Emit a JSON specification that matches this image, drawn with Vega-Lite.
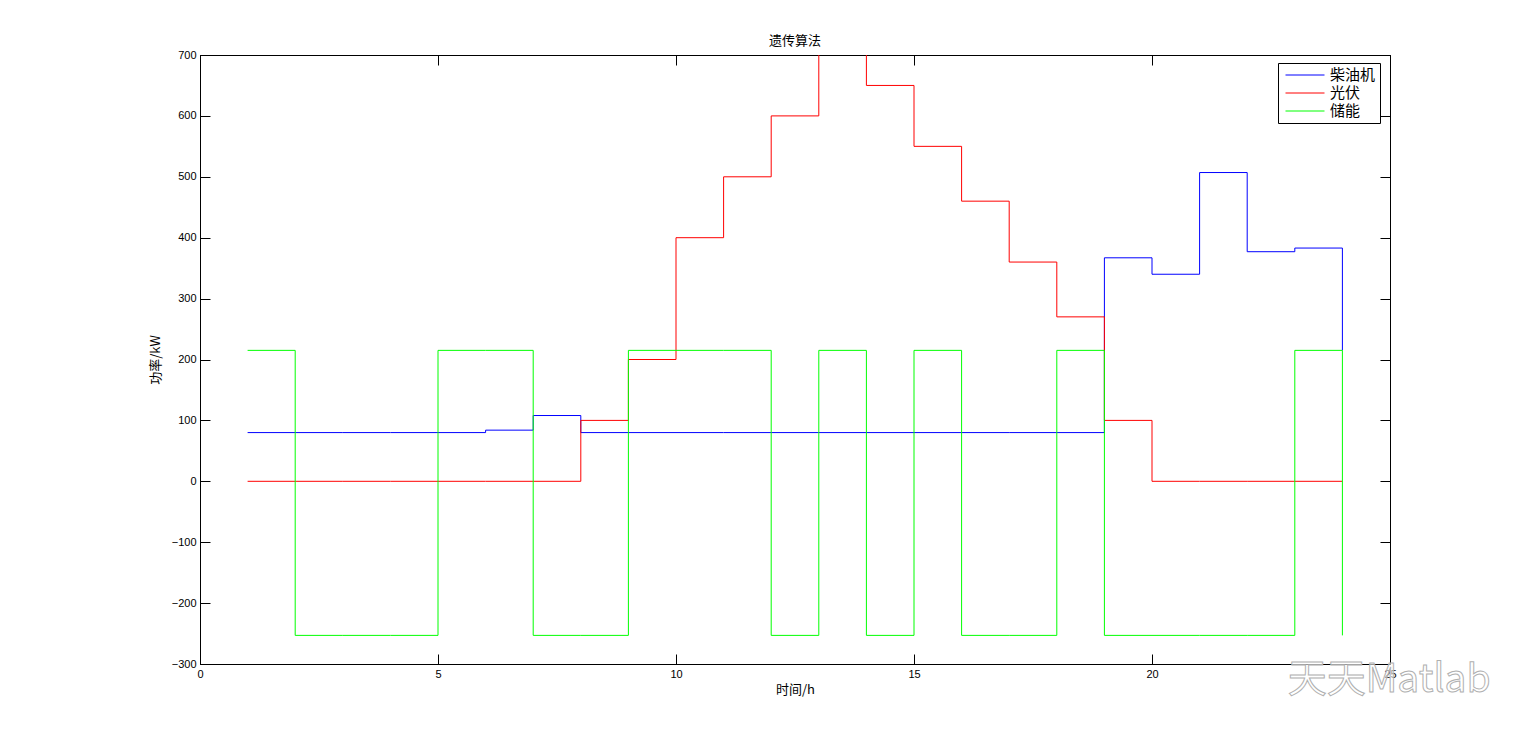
{
  "$schema": "https://vega.github.io/schema/vega-lite/v6.json",
  "width": 1190,
  "height": 609,
  "autosize": {"type": "none"},
  "padding": {"left": 200, "top": 55, "right": 147, "bottom": 82},
  "background": "white",
  "title": {"text": "遗传算法", "font": "Noto Sans CJK SC", "fontSize": 13, "fontWeight": "normal", "offset": -32, "color": "black"},
  "config": {
    "view": {"stroke": "black", "strokeWidth": 1},
    "axis": {
      "grid": false,
      "domainColor": "black",
      "tickColor": "black",
      "tickSize": -10,
      "labelPadding": 14,
      "labelFlush": false,
      "labelColor": "black",
      "labelFont": "Liberation Sans",
      "labelFontSize": 11,
      "titleFont": "Noto Sans CJK SC",
      "titleFontSize": 13,
      "titleFontWeight": "normal",
      "titleColor": "black"
    }
  },
  "datasets": {
    "series": [
      {"t": 1, "p": 80, "s": "柴油机"}, {"t": 2, "p": 80, "s": "柴油机"}, {"t": 3, "p": 80, "s": "柴油机"}, {"t": 4, "p": 80, "s": "柴油机"},
      {"t": 5, "p": 80, "s": "柴油机"}, {"t": 6, "p": 84, "s": "柴油机"}, {"t": 7, "p": 108, "s": "柴油机"}, {"t": 8, "p": 80, "s": "柴油机"},
      {"t": 9, "p": 80, "s": "柴油机"}, {"t": 10, "p": 80, "s": "柴油机"}, {"t": 11, "p": 80, "s": "柴油机"}, {"t": 12, "p": 80, "s": "柴油机"},
      {"t": 13, "p": 80, "s": "柴油机"}, {"t": 14, "p": 80, "s": "柴油机"}, {"t": 15, "p": 80, "s": "柴油机"}, {"t": 16, "p": 80, "s": "柴油机"},
      {"t": 17, "p": 80, "s": "柴油机"}, {"t": 18, "p": 80, "s": "柴油机"}, {"t": 19, "p": 367, "s": "柴油机"}, {"t": 20, "p": 340, "s": "柴油机"},
      {"t": 21, "p": 507, "s": "柴油机"}, {"t": 22, "p": 377, "s": "柴油机"}, {"t": 23, "p": 383, "s": "柴油机"}, {"t": 24, "p": 215, "s": "柴油机"},
      {"t": 1, "p": 0, "s": "光伏"}, {"t": 2, "p": 0, "s": "光伏"}, {"t": 3, "p": 0, "s": "光伏"}, {"t": 4, "p": 0, "s": "光伏"},
      {"t": 5, "p": 0, "s": "光伏"}, {"t": 6, "p": 0, "s": "光伏"}, {"t": 7, "p": 0, "s": "光伏"}, {"t": 8, "p": 100, "s": "光伏"},
      {"t": 9, "p": 200, "s": "光伏"}, {"t": 10, "p": 400, "s": "光伏"}, {"t": 11, "p": 500, "s": "光伏"}, {"t": 12, "p": 600, "s": "光伏"},
      {"t": 13, "p": 760, "s": "光伏"}, {"t": 14, "p": 650, "s": "光伏"}, {"t": 15, "p": 550, "s": "光伏"}, {"t": 16, "p": 460, "s": "光伏"},
      {"t": 17, "p": 360, "s": "光伏"}, {"t": 18, "p": 270, "s": "光伏"}, {"t": 19, "p": 100, "s": "光伏"}, {"t": 20, "p": 0, "s": "光伏"},
      {"t": 21, "p": 0, "s": "光伏"}, {"t": 22, "p": 0, "s": "光伏"}, {"t": 23, "p": 0, "s": "光伏"}, {"t": 24, "p": 0, "s": "光伏"},
      {"t": 1, "p": 215, "s": "储能"}, {"t": 2, "p": -253, "s": "储能"}, {"t": 3, "p": -253, "s": "储能"}, {"t": 4, "p": -253, "s": "储能"},
      {"t": 5, "p": 215, "s": "储能"}, {"t": 6, "p": 215, "s": "储能"}, {"t": 7, "p": -253, "s": "储能"}, {"t": 8, "p": -253, "s": "储能"},
      {"t": 9, "p": 215, "s": "储能"}, {"t": 10, "p": 215, "s": "储能"}, {"t": 11, "p": 215, "s": "储能"}, {"t": 12, "p": -253, "s": "储能"},
      {"t": 13, "p": 215, "s": "储能"}, {"t": 14, "p": -253, "s": "储能"}, {"t": 15, "p": 215, "s": "储能"}, {"t": 16, "p": -253, "s": "储能"},
      {"t": 17, "p": -253, "s": "储能"}, {"t": 18, "p": 215, "s": "储能"}, {"t": 19, "p": -253, "s": "储能"}, {"t": 20, "p": -253, "s": "储能"},
      {"t": 21, "p": -253, "s": "储能"}, {"t": 22, "p": -253, "s": "储能"}, {"t": 23, "p": 215, "s": "储能"}, {"t": 24, "p": -253, "s": "储能"}
    ],
    "wm": [{"t": 22.85, "p": -327, "label": "天天Matlab"}]
  },
  "layer": [
    {
      "data": {"name": "series"},
      "mark": {"type": "line", "interpolate": "step-after", "strokeWidth": 1, "clip": true},
      "encoding": {
        "x": {"field": "t", "type": "quantitative", "scale": {"domain": [0, 25], "nice": false, "zero": false},
              "axis": {"orient": "bottom", "title": "时间/h", "values": [0, 5, 10, 15, 20, 25], "titlePadding": 4}},
        "y": {"field": "p", "type": "quantitative", "scale": {"domain": [-300, 700], "nice": false, "zero": false},
              "axis": {"orient": "left", "title": "功率/kW", "values": [-300, -200, -100, 0, 100, 200, 300, 400, 500, 600, 700], "titlePadding": 9}},
        "color": {"field": "s", "type": "nominal",
                  "scale": {"domain": ["柴油机", "光伏", "储能"], "range": ["#0000ff", "#ff0000", "#00ff00"]},
                  "legend": {"orient": "none", "legendX": 1078, "legendY": 8, "title": null,
                             "strokeColor": "black", "fillColor": "white", "cornerRadius": 0, "padding": 4,
                             "symbolType": "M-2.6,0H2.6", "symbolSize": 225, "symbolStrokeWidth": 1, "symbolOffset": 15,
                             "labelFont": "Noto Sans CJK SC", "labelFontSize": 15, "labelColor": "black", "labelOffset": 17, "rowPadding": 2}},
        "order": {"field": "t", "type": "quantitative"}
      }
    },
    {
      "data": {"name": "series"},
      "mark": {"type": "point", "opacity": 0},
      "encoding": {
        "x": {"field": "t", "type": "quantitative", "axis": {"orient": "top", "labels": false, "title": null, "values": [0, 5, 10, 15, 20, 25]}},
        "y": {"field": "p", "type": "quantitative", "axis": {"orient": "right", "labels": false, "title": null, "values": [-300, -200, -100, 0, 100, 200, 300, 400, 500, 600, 700]}}
      }
    },
    {
      "data": {"name": "wm"},
      "mark": {"type": "text", "align": "left", "baseline": "middle", "font": "Noto Sans CJK SC", "fontSize": 39, "fill": "#ffffff", "stroke": "#b0b0b0", "strokeWidth": 1, "fillOpacity": 0.6, "clip": false},
      "encoding": {
        "x": {"field": "t", "type": "quantitative", "axis": null},
        "y": {"field": "p", "type": "quantitative", "axis": null},
        "text": {"field": "label"}
      }
    }
  ],
  "resolve": {"axis": {"x": "independent", "y": "independent"}}
}
